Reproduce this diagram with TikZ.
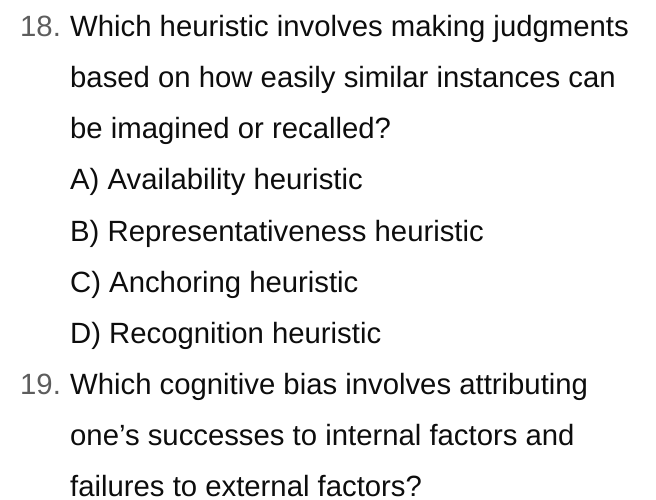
\documentclass[tikz,border=0pt]{standalone}
\usepackage{fontspec}
\setmainfont{Liberation Sans}[Ligatures=ResetAll]
\definecolor{numgray}{HTML}{5D5D5D}
\definecolor{txt}{HTML}{0D0D0D}
\begin{document}
\begin{tikzpicture}[x=1pt,y=1pt,
  ln/.style={anchor=base west,inner sep=0pt,font=\fontsize{29.3}{33}\selectfont,text=txt},
  num/.style={ln,text=numgray}]
\useasboundingbox[fill=white] (0,0) rectangle (656,499);
\node[num] (n18) at (20,{499-37}) {18.};
\node[ln] (l1) at (70,{499-37}) {Which heuristic involves making judgments};
\node[ln] (l2) at (70,{499-88}) {based on how easily similar instances can};
\node[ln] (l3) at (70,{499-139}) {be imagined or recalled?};
\node[ln] (a) at (70,{499-190}) {A) Availability heuristic};
\node[ln] (b) at (70,{499-241}) {B) Representativeness heuristic};
\node[ln] (c) at (70,{499-292}) {C) Anchoring heuristic};
\node[ln] (d) at (70,{499-343}) {D) Recognition heuristic};
\node[num] (n19) at (20,{499-394}) {19.};
\node[ln] (m1) at (70,{499-394}) {Which cognitive bias involves attributing};
\node[ln] (m2) at (70,{499-445}) {one's successes to internal factors and};
\node[ln] (m3) at (70,{499-496}) {failures to external factors?};
\end{tikzpicture}
\end{document}
